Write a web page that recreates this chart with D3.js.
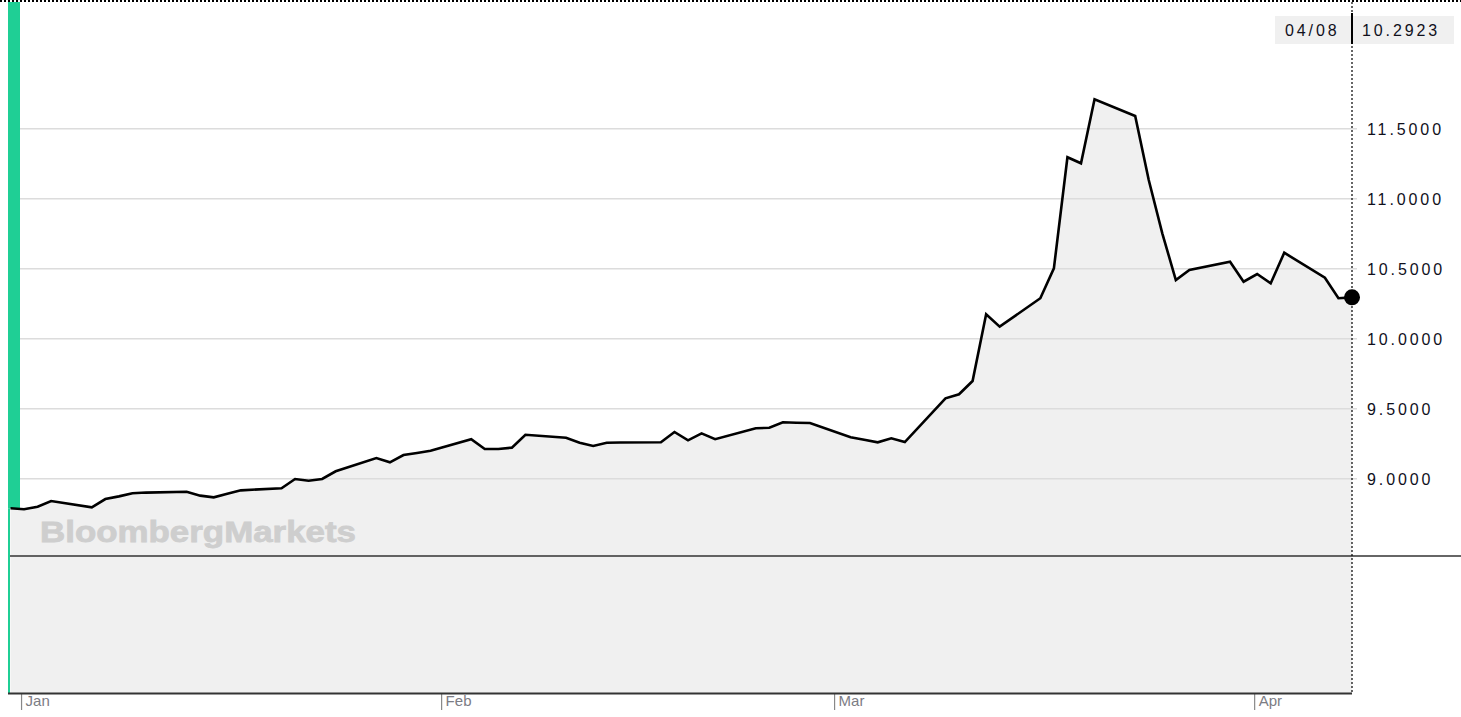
<!DOCTYPE html>
<html>
<head>
<meta charset="utf-8">
<script src="https://cdn.jsdelivr.net/npm/d3@7"></script>
<style>
  html, body { margin: 0; padding: 0; background: #fff; }
  svg { display: block; }
</style>
</head>
<body>
<svg id="chart" width="1461" height="717"></svg>
<script>
// ---- data (USD/NOK daily, 2020) ----
const dates = [
  "2019-12-31","2020-01-01","2020-01-02","2020-01-03","2020-01-06","2020-01-07","2020-01-08","2020-01-09","2020-01-10",
  "2020-01-13","2020-01-14","2020-01-15","2020-01-16","2020-01-17","2020-01-20","2020-01-21","2020-01-22","2020-01-23","2020-01-24",
  "2020-01-27","2020-01-28","2020-01-29","2020-01-30","2020-01-31","2020-02-03","2020-02-04","2020-02-05","2020-02-06","2020-02-07",
  "2020-02-10","2020-02-11","2020-02-12","2020-02-13","2020-02-14","2020-02-17","2020-02-18","2020-02-19","2020-02-20","2020-02-21",
  "2020-02-24","2020-02-25","2020-02-26","2020-02-27","2020-02-28","2020-03-02","2020-03-03","2020-03-04","2020-03-05","2020-03-06",
  "2020-03-09","2020-03-10","2020-03-11","2020-03-12","2020-03-13","2020-03-16","2020-03-17","2020-03-18","2020-03-19","2020-03-20",
  "2020-03-23","2020-03-24","2020-03-25","2020-03-26","2020-03-27","2020-03-30","2020-03-31","2020-04-01","2020-04-02","2020-04-03",
  "2020-04-06","2020-04-07","2020-04-08"
];
const values = [
  8.786, 8.779, 8.797, 8.838, 8.793, 8.852, 8.871, 8.893, 8.898,
  8.904, 8.876, 8.864, 8.889, 8.914, 8.929, 8.995, 8.983, 8.995, 9.050,
  9.145, 9.114, 9.166, 9.181, 9.197, 9.279, 9.209, 9.209, 9.219, 9.311,
  9.290, 9.254, 9.231, 9.254, 9.256, 9.257, 9.331, 9.271, 9.321, 9.279,
  9.357, 9.361, 9.400, 9.397, 9.395, 9.293, 9.275, 9.257, 9.286, 9.259,
  9.571, 9.600, 9.695, 10.171, 10.083, 10.286, 10.500, 11.293, 11.250, 11.707,
  11.588, 11.131, 10.750, 10.416, 10.488, 10.547, 10.404, 10.459, 10.393, 10.611,
  10.433, 10.286, 10.2923
];
const yTicks = [9.0, 9.5, 10.0, 10.5, 11.0, 11.5];
const monthLabels = ["Jan", "Feb", "Mar", "Apr"];
const lastDateLabel = "04/08";
const watermark = "BloombergMarkets";

// ---- layout ----
const W = 1461, H = 717;
const plotLeft = 8, plotRight = 1352, plotTop = 0, plotBottom = 693;
const fixHourOffset = 5.3 * 3600 * 1000; // daily fixes sit a few hours after midnight
const labelFont = "'Liberation Sans', Arial, sans-serif";

const data = dates.map((d, i) => ({ date: new Date(Date.parse(d + "T00:00:00Z") + fixHourOffset), value: values[i] }));

const svg = d3.select("#chart");

const x = d3.scaleUtc()
  .domain([new Date(Date.parse("2019-12-31T00:00:00Z") + fixHourOffset), new Date(Date.parse("2020-04-08T00:00:00Z") + fixHourOffset)])
  .range([10.5, plotRight]);

const y = d3.scaleLinear()
  .domain([7.4664, 12.4164])
  .range([plotBottom, plotTop]);

// area fill
const area = d3.area()
  .x(d => x(d.date))
  .y0(plotBottom)
  .y1(d => y(d.value));
svg.append("path")
  .datum(data)
  .attr("d", area)
  .attr("fill", "#f0f0f0");

// gridlines + y labels
const yAxis = d3.axisRight(y)
  .tickValues(yTicks)
  .tickSize(plotRight + 5 - plotLeft)
  .tickFormat(d3.format(".4f"));
const gy = svg.append("g")
  .attr("transform", `translate(${plotLeft},0)`)
  .call(yAxis);
gy.select(".domain").remove();
gy.selectAll(".tick line").attr("stroke", "#dcdcdc").attr("stroke-width", 1.5);
gy.selectAll(".tick text")
  .attr("x", 1367 - plotLeft)
  .attr("dy", "0.36em")
  .attr("fill", "#10101c")
  .style("font-family", labelFont)
  .style("font-size", "16px")
  .style("letter-spacing", "2.9px");

// horizontal reference line
svg.append("line")
  .attr("x1", plotLeft).attr("x2", W)
  .attr("y1", 556).attr("y2", 556)
  .attr("stroke", "#333").attr("stroke-width", 1.5);

// watermark
svg.append("text")
  .attr("x", 40).attr("y", 542)
  .attr("textLength", 316)
  .attr("lengthAdjust", "spacingAndGlyphs")
  .attr("fill", "#cecece")
  .attr("stroke", "#cecece")
  .attr("stroke-width", 0.8)
  .style("font-family", labelFont)
  .style("font-weight", "bold")
  .style("font-size", "30px")
  .text(watermark);

// green indicator bar
const firstY = y(values[0]);
svg.append("rect")
  .attr("x", 8).attr("y", 2)
  .attr("width", 12).attr("height", firstY - 2)
  .attr("fill", "#1fcf95");
svg.append("line")
  .attr("x1", 9).attr("x2", 9)
  .attr("y1", firstY).attr("y2", plotBottom)
  .attr("stroke", "#1fcf95").attr("stroke-width", 2);

// line
const line = d3.line()
  .x(d => x(d.date))
  .y(d => y(d.value));
svg.append("path")
  .datum(data)
  .attr("d", line)
  .attr("fill", "none")
  .attr("stroke", "#000")
  .attr("stroke-width", 2.6)
  .attr("stroke-linejoin", "miter");

// top dotted border
svg.append("line")
  .attr("x1", 0).attr("x2", W)
  .attr("y1", 1).attr("y2", 1)
  .attr("stroke", "#000").attr("stroke-width", 2)
  .attr("stroke-dasharray", "2,2");

// vertical dotted line at last point
svg.append("line")
  .attr("x1", plotRight).attr("x2", plotRight)
  .attr("y1", 2).attr("y2", plotBottom)
  .attr("stroke", "#000").attr("stroke-width", 1.2)
  .attr("stroke-dasharray", "2,2");

// bottom axis
const xAxis = d3.axisBottom(x)
  .ticks(d3.utcMonth.every(1))
  .tickSize(16)
  .tickFormat((d, i) => monthLabels[i]);
const gx = svg.append("g")
  .attr("transform", `translate(0,${plotBottom + 1})`)
  .call(xAxis);
gx.select(".domain").remove();
gx.selectAll(".tick line").attr("stroke", "#888").attr("stroke-width", 1.2);
gx.selectAll(".tick text")
  .attr("text-anchor", "start")
  .attr("x", 4).attr("y", 1).attr("dy", "0.71em")
  .attr("fill", "#7c7c84")
  .style("font-family", labelFont)
  .style("font-size", "15px");
svg.append("line")
  .attr("x1", plotLeft).attr("x2", plotRight)
  .attr("y1", plotBottom + 0.5).attr("y2", plotBottom + 0.5)
  .attr("stroke", "#333").attr("stroke-width", 2);

// last point marker
const last = data[data.length - 1];
svg.append("circle")
  .attr("cx", x(last.date)).attr("cy", y(last.value))
  .attr("r", 8).attr("fill", "#000");

// last value label
const lbl = svg.append("g");
lbl.append("rect")
  .attr("x", 1275).attr("y", 16).attr("width", 179).attr("height", 28)
  .attr("fill", "#f0f0f0");
lbl.append("line")
  .attr("x1", plotRight).attr("x2", plotRight)
  .attr("y1", 13).attr("y2", 44)
  .attr("stroke", "#000").attr("stroke-width", 2);
lbl.append("text")
  .attr("x", 1285).attr("y", 36)
  .attr("fill", "#10101c")
  .style("font-family", labelFont)
  .style("font-size", "16px")
  .style("letter-spacing", "2.9px")
  .text(lastDateLabel);
lbl.append("text")
  .attr("x", 1362).attr("y", 36)
  .attr("fill", "#10101c")
  .style("font-family", labelFont)
  .style("font-size", "16px")
  .style("letter-spacing", "2.9px")
  .text(d3.format(".4f")(last.value));
</script>
</body>
</html>
